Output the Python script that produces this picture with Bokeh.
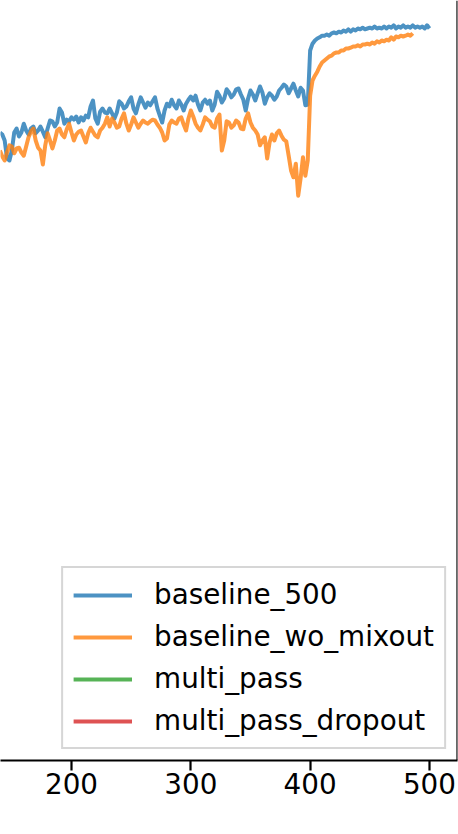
from bokeh.plotting import figure
from bokeh.models import Range1d, FixedTicker, Span, Legend, LegendItem
from bokeh.embed import file_html
from bokeh.resources import INLINE

# ---------------- data ----------------
series_names = ["baseline_500", "baseline_wo_mixout", "multi_pass", "multi_pass_dropout"]
series_colors = ["#1f77b4", "#ff7f0e", "#2ca02c", "#d62728"]

baseline_500_x = list(range(140, 501, 2))
baseline_500_y = [
    78.5, 78.25, 77.5, 75.25, 75.0, 76.25, 78.5, 79.0, 78.0, 78.5,
    79.6, 78.75, 78.25, 79.0, 79.25, 78.4, 78.75, 79.25, 78.6, 77.9,
    79.0, 80.0, 79.9, 79.25, 79.75, 81.5, 81.0, 79.6, 80.1, 79.9,
    80.4, 80.1, 80.5, 79.75, 80.4, 80.0, 80.6, 80.4, 81.75, 82.5,
    80.25, 79.6, 81.1, 81.5, 81.0, 80.9, 81.5, 80.9, 80.25, 81.0,
    82.4, 82.1, 81.5, 81.75, 82.4, 82.9, 81.5, 80.9, 82.0, 82.9,
    82.25, 81.6, 82.25, 81.9, 82.4, 82.9, 81.5, 80.6, 79.75, 81.25,
    82.1, 81.75, 82.6, 81.9, 81.5, 82.5, 82.0, 81.25, 82.1, 82.6,
    83.0, 82.5, 83.1, 82.0, 81.25, 82.25, 82.6, 82.1, 82.5, 81.25,
    82.0, 83.6, 83.1, 82.25, 82.75, 83.9, 83.5, 82.9, 83.25, 83.9,
    84.0, 83.25, 82.6, 81.25, 82.75, 83.75, 83.25, 82.5, 83.4, 84.25,
    83.5, 82.1, 82.9, 83.4, 83.1, 82.6, 83.0, 83.75, 84.1, 84.5,
    84.25, 83.4, 84.0, 84.6, 83.75, 83.0, 84.1, 83.75, 81.9, 82.0,
    88.75, 89.6, 90.0, 90.25, 90.4, 90.6, 90.6, 90.75, 90.6, 90.9,
    91.0, 90.9, 91.1, 91.0, 91.25, 91.1, 91.4, 91.1, 91.4, 91.25,
    91.5, 91.4, 91.6, 91.4, 91.5, 91.6, 91.5, 91.75, 91.5, 91.6,
    91.5, 91.75, 91.5, 91.75, 91.6, 91.9, 91.5, 91.75, 91.6, 91.9,
    91.6, 91.75, 91.6, 91.9, 91.6, 91.75, 91.6, 91.75, 91.5, 91.9,
    91.5,
]

baseline_wo_mixout_x = list(range(140, 487, 2))
baseline_wo_mixout_y = [
    76.25, 75.5, 75.0, 76.0, 76.9, 76.75, 75.9, 76.5, 76.6, 76.0,
    75.6, 76.75, 77.9, 78.6, 79.0, 77.5, 76.6, 76.25, 74.5, 76.9,
    78.4, 77.5, 76.5, 77.5, 78.75, 79.0, 78.25, 77.9, 78.9, 79.6,
    78.5, 77.5, 78.25, 78.6, 78.75, 78.0, 77.25, 78.4, 79.1, 78.6,
    78.1, 77.9, 78.75, 79.1, 79.6, 80.4, 79.25, 80.25, 79.75, 79.1,
    79.25, 80.25, 80.9, 79.6, 78.75, 79.5, 80.4, 79.75, 79.1, 79.6,
    80.0, 79.75, 79.6, 79.9, 80.1, 80.0, 79.5, 79.1, 78.5, 77.5,
    77.75, 79.5, 80.0, 79.75, 79.6, 80.25, 80.4, 79.5, 78.75, 80.25,
    81.25, 80.5, 79.6, 79.1, 78.75, 79.5, 80.4, 80.1, 79.9, 79.25,
    79.1, 80.25, 80.75, 76.25, 77.5, 79.9, 79.75, 79.1, 79.4, 80.0,
    79.75, 79.0, 78.9, 80.25, 80.9, 79.75, 79.1, 78.75, 78.25, 76.9,
    77.5, 77.9, 75.25, 77.25, 78.25, 77.5, 78.4, 78.75, 78.1, 77.6,
    77.4, 75.6, 73.75, 72.9, 74.6, 70.6, 72.75, 75.4, 73.1, 75.0,
    83.1, 85.0, 85.6, 86.1, 86.75, 87.25, 87.5, 87.75, 88.0, 88.1,
    88.4, 88.5, 88.5, 88.75, 88.75, 89.0, 89.0, 89.1, 89.25, 89.25,
    89.4, 89.25, 89.5, 89.5, 89.6, 89.5, 89.75, 89.6, 89.9, 89.75,
    90.0, 89.9, 90.1, 90.0, 90.4, 90.1, 90.5, 90.4, 90.6, 90.5,
    90.6, 90.75, 90.6, 90.9,
]

# these two runs lie outside the visible part of the chart (legend only)
multi_pass_x = [float("nan")]
multi_pass_y = [float("nan")]
multi_pass_dropout_x = [float("nan")]
multi_pass_dropout_y = [float("nan")]

x_ticks = [200, 300, 400, 500]

# ---------------- figure ----------------
FONT = "DejaVu Sans"
FS = "27.8px"

p = figure(
    width=458, height=822,
    x_range=Range1d(140.5, 523.5), y_range=Range1d(0, 95),
    output_backend="svg", toolbar_location=None,
    y_axis_location=None,
    min_border_left=0, min_border_right=1, min_border_top=0, min_border_bottom=62,
)
p.outline_line_color = None
p.grid.visible = False
p.background_fill_color = "white"
p.border_fill_color = "white"

xs = [baseline_500_x, baseline_wo_mixout_x, multi_pass_x, multi_pass_dropout_x]
ys = [baseline_500_y, baseline_wo_mixout_y, multi_pass_y, multi_pass_dropout_y]
renderers = []
for x, y, c in zip(xs, ys, series_colors):
    r = p.line(x, y, line_color=c, line_width=4.0, line_alpha=0.8, line_join="round")
    renderers.append(r)

ax = p.xaxis[0]
ax.ticker = FixedTicker(ticks=x_ticks)
ax.minor_tick_line_color = None
ax.major_tick_in = 0
ax.major_tick_out = 10
ax.major_tick_line_width = 2.2
ax.major_tick_line_color = "black"
ax.axis_line_width = 2.2
ax.axis_line_color = "black"
ax.major_label_text_font = FONT
ax.major_label_text_font_size = FS
ax.major_label_text_color = "black"
ax.major_label_standoff = 2

right_spine = Span(location=523.5, dimension="height", line_color="black", line_width=2.2)
p.add_layout(right_spine)

legend = Legend(
    items=[LegendItem(label=n, renderers=[r]) for n, r in zip(series_names, renderers)],
    location="bottom_right",
)
legend.margin = 11
legend.padding = 10
legend.spacing = 9
legend.glyph_width = 59
legend.glyph_height = 32
legend.label_height = 32
legend.label_standoff = 22
legend.label_text_font = FONT
legend.label_text_font_size = FS
legend.label_text_color = "black"
legend.border_line_color = "#cccccc"
legend.border_line_width = 2
legend.border_line_alpha = 0.8
legend.background_fill_color = "white"
legend.background_fill_alpha = 0.8
p.add_layout(legend)

open("out.html", "w").write(file_html(p, INLINE))
